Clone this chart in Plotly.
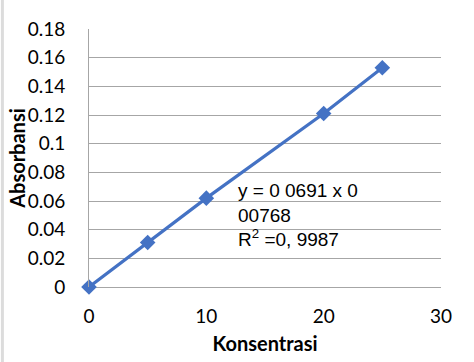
import plotly.graph_objects as go

konsentrasi = [0, 5, 10, 20, 25]
absorbansi = [0.0, 0.031, 0.062, 0.121, 0.153]
x_ticks = [0, 10, 20, 30]
y_ticks = [0, 0.02, 0.04, 0.06, 0.08, 0.1, 0.12, 0.14, 0.16, 0.18]
y_tick_text = ["0", "0.02", "0.04", "0.06", "0.08", "0.1", "0.12", "0.14", "0.16", "0.18"]
eq_text = "y = 0 0691 x 0<br>00768<br>R<sup>2</sup> =0, 9987"

fig = go.Figure()
fig.add_trace(go.Scatter(
    x=konsentrasi, y=absorbansi, mode="lines+markers",
    line=dict(color="#4472C4", width=3.2),
    marker=dict(symbol="diamond", size=12, color="#4472C4"),
    showlegend=False, cliponaxis=False,
))

fig.add_annotation(
    x=12.55, y=0.0758, xref="x", yref="y", text=eq_text, showarrow=False,
    xanchor="left", yanchor="top", align="left",
    font=dict(family="Liberation Sans, Arial", size=19, color="#000000"),
)

fig.add_annotation(
    x=-0.205, y=0.5, xref="paper", yref="paper", text="<b>Absorbansi</b>",
    textangle=-90, showarrow=False, xanchor="center", yanchor="middle",
    font=dict(family="Lato, Open Sans, sans-serif", size=20, color="#000000"),
)

fig.update_layout(
    width=474, height=362,
    margin=dict(l=89, r=33, t=29, b=75),
    paper_bgcolor="white", plot_bgcolor="white",
    font=dict(family="Lato, Open Sans, sans-serif", size=19, color="#000000"),
    xaxis=dict(
        range=[0, 30], tickvals=x_ticks, showgrid=False, zeroline=False,
        showline=False, ticks="", ticklabelstandoff=16,
        title=dict(text="<b>Konsentrasi</b>", font=dict(size=20), standoff=10),
    ),
    yaxis=dict(
        range=[0, 0.18], tickvals=y_ticks, ticktext=y_tick_text,
        showgrid=True, gridcolor="#A6A6A6", gridwidth=1, zeroline=True,
        zerolinecolor="#A6A6A6", zerolinewidth=1,
        showline=True, linecolor="#A6A6A6", linewidth=1, ticks="",
        ticklabelstandoff=19,
    ),
    shapes=[dict(type="line", xref="paper", yref="paper", x0=-0.246, x1=-0.246,
                 y0=-0.3, y1=1.12, line=dict(color="#DCDCDC", width=3))],
)

fig.write_html("out.html")
